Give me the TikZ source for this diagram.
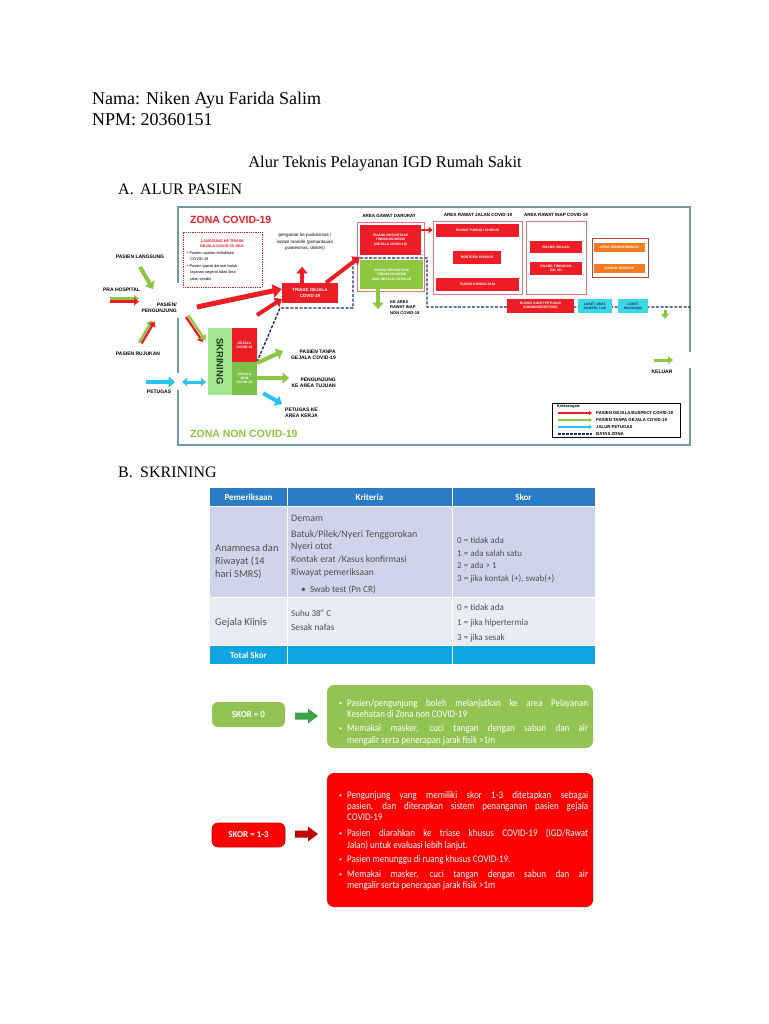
\documentclass[tikz,border=0pt]{standalone}
\usepackage{fontspec}
\setmainfont{Liberation Serif}
\newfontfamily\arial{Liberation Sans}
\newfontfamily\calib{Carlito}
\newfontfamily\calibn[FakeStretch=0.88]{Carlito}
\usetikzlibrary{arrows.meta}
\definecolor{cred}{HTML}{EE1C25}
\definecolor{cgreen}{HTML}{8DC63F}
\definecolor{ccyan}{HTML}{29C4F4}
\definecolor{cnavy}{HTML}{1C2B6E}
\definecolor{cteal}{HTML}{6E9C98}
\definecolor{corange}{HTML}{F47B20}
\definecolor{ccyb}{HTML}{3BD9E6}
\definecolor{cpink}{HTML}{E57373}
\definecolor{cbrown}{HTML}{B34A3A}
\definecolor{zgreen}{HTML}{8CC63F}
\definecolor{sklight}{HTML}{A4E58F}
\definecolor{skgreen}{HTML}{7CC24A}
\definecolor{sktext}{HTML}{1E3B1E}
\definecolor{thead}{HTML}{2A7CC7}
\definecolor{trowa}{HTML}{CFD4EA}
\definecolor{trowb}{HTML}{E9EBF5}
\definecolor{ttotal}{HTML}{0FA5E3}
\definecolor{tgray}{HTML}{505050}
\definecolor{sgreen}{HTML}{92C353}
\definecolor{skarr}{HTML}{3DA44A}
\definecolor{dred}{HTML}{C00000}
\definecolor{bred}{HTML}{FF0000}
\newcommand\fz[2]{\fontsize{#1}{#2}\selectfont}
\newcommand\jl[1]{\makebox[241pt][s]{#1}}
\begin{document}
\begin{tikzpicture}[x=1pt,y=-1pt,
  ar/.style={line width=4pt,-{Triangle[length=6.5pt,width=11pt]}},
  arR/.style={ar,draw=cred},
  arG/.style={ar,draw=cgreen},
  arC/.style={ar,draw=ccyan},
  ars/.style={line width=2.3pt,-{Triangle[length=5pt,width=7.5pt]}},
  lab/.style={font=\arial\bfseries\fz{5}{6.2}, align=center, inner sep=0pt, text=black},
  bt/.style={font=\arial\bfseries\fz{3.4}{4.3}, align=center, inner sep=0pt, text=white},
  area/.style={draw=cpink, line width=0.7pt, inner sep=0pt},
  zone/.style={draw=cteal, line width=1.8pt},
  batas/.style={draw=cnavy, line width=1.4pt, dash pattern=on 3pt off 1.6pt},
  hdr/.style={anchor=base west, inner sep=0pt},
  tc/.style={font=\calib\fz{10}{12}, text=tgray, anchor=base west, inner sep=0pt},
  legt/.style={anchor=west, inner sep=0pt, font=\arial\bfseries\fz{4.3}{5}},
  bl/.style={anchor=base west, inner sep=0pt, text=white, font=\calibn\fz{10.2}{11}},
  bul/.style={anchor=base west, inner sep=0pt, text=white, font=\calib\fz{6}{6}, yshift=1pt}
]
\useasboundingbox (0,0) rectangle (768,1024);
\fill[white] (0,0) rectangle (768,1024);

% ---------- header ----------
\node[hdr, font=\fz{18}{20}] (nama) at (92,105) {Nama: Niken Ayu Farida Salim};
\node[hdr, font=\fz{18}{20}] (npm) at (92,126) {NPM: 20360151};
\node[anchor=base, inner sep=0pt, font=\fz{16.5}{18}] (judul) at (385,168) {Alur Teknis Pelayanan IGD Rumah Sakit};
\node[hdr, font=\fz{16}{18}] (ha) at (118,195) {A.};
\node[hdr, font=\fz{16}{18}] (hat) at (140,195) {ALUR PASIEN};
\node[hdr, font=\fz{16}{18}] (hb) at (118,477) {B.};
\node[hdr, font=\fz{16}{18}] (hbt) at (140,477) {SKRINING};

% ---------- zone frame ----------
\draw[zone] (178,283) -- (178,207) -- (690,207) -- (690,352);
\draw[zone] (690,368) -- (690,445) -- (178,445) -- (178,390);
\draw[zone] (178,373) -- (178,318);
\node[anchor=west, inner sep=0pt, font=\arial\bfseries\fz{10.5}{12}, text=cred] (zc) at (190,220) {ZONA COVID-19};
\node[anchor=west, inner sep=0pt, font=\arial\bfseries\fz{10.5}{12}, text=zgreen] (znc) at (190,434) {ZONA NON COVID-19};

% batas zona
\draw[batas] (257,362) -- (280,308) -- (353,308) -- (353,258) -- (427,258) -- (427,307) -- (690,307);

% dashed red box
\node[draw=cred, line width=0.9pt, dash pattern=on 1pt off 0.8pt, minimum width=79pt, minimum height=55pt, inner sep=0pt] (lk) at (222.5,259.5) {};
\node[font=\arial\bfseries\fz{3.8}{5.2}, text=cred, align=center, inner sep=0pt] (lkt) at (222.5,243.5) {LANGSUNG KE TRIASE\\GEJALA COVID-19 JIKA:};
\node[anchor=north west, font=\arial\fz{3.9}{6.5}, align=left, inner sep=0pt] (lkb) at (187,251) {\textbullet\ Pasien rujukan terindikasi\\\hspace*{3.2pt}COVID-19\\\textbullet\ Pasien gawat darurat butuh\\\hspace*{3.2pt}layanan segera/ tidak bisa\\\hspace*{3.2pt}jalan sendiri};

% pengantar
\node[font=\arial\fz{4.5}{6.6}, align=center, inner sep=0pt] (peng) at (305,242) {pengantar ke puskesmas /\\isolasi mandiri (pemantauan\\puskesmas, dinkes)};

% triase
\node[bt, fill=cred, minimum width=56pt, minimum height=20pt, font=\arial\bfseries\fz{4.4}{5.6}] (triase) at (310,293) {TRIASE GEJALA\\COVID-19};

% area gawat darurat
\node[lab, font=\arial\bfseries\fz{4.5}{5}] (agdl) at (389,216) {AREA GAWAT DARURAT};
\node[area, minimum width=67pt, minimum height=69pt] (agd) at (390.5,256.5) {};
\node[bt, fill=cred, minimum width=61pt, minimum height=30pt] (agdr) at (390.5,240) {RUANG RESUSITASI/\\TINDAKAN MEDIS\\(GEJALA COVID-19)};
\node[bt, fill=cgreen, minimum width=63pt, minimum height=29pt] (agdg) at (391.5,274.5) {RUANG RESUSITASI/\\TINDAKAN MEDIS\\NON GEJALA COVID-19};
\node[anchor=west, font=\arial\bfseries\fz{4.1}{5.2}, align=left, inner sep=0pt] (kenon) at (390,307.5) {KE AREA\\RAWAT INAP\\NON COVID-19};

% area rawat jalan
\node[lab, font=\arial\bfseries\fz{4.5}{5}] (arjl) at (478,215) {AREA RAWAT JALAN COVID-19};
\node[area, minimum width=89pt, minimum height=73pt] (arj) at (477.5,257.5) {};
\node[bt, fill=cred, minimum width=83pt, minimum height=13pt] (rtk) at (477.5,230.5) {RUANG TUNGGU KHUSUS};
\node[bt, fill=cred, minimum width=48pt, minimum height=13pt] (rtg) at (477,257.5) {RONTGEN KHUSUS};
\node[bt, fill=cred, minimum width=83pt, minimum height=13pt] (rks) at (477.5,284.5) {RUANG KONSULTASI};

% area rawat inap
\node[lab, font=\arial\bfseries\fz{4.5}{5}] (aril) at (556,215) {AREA RAWAT INAP COVID-19};
\node[area, minimum width=60pt, minimum height=73pt] (ari) at (556,257.5) {};
\node[bt, fill=cred, minimum width=52pt, minimum height=12pt] (ris) at (556,247) {RUANG ISOLASI};
\node[bt, fill=cred, minimum width=52pt, minimum height=13pt] (rti) at (556,268.5) {RUANG TINDAKAN\\OK, VK};

% orange group
\node[draw=cbrown, line width=0.6pt, minimum width=56pt, minimum height=39pt, inner sep=0pt] (org) at (620,257.5) {};
\node[bt, fill=corange, minimum width=51pt, minimum height=9pt] (adk) at (619.5,247.5) {AREA DEKONTAMINASI};
\node[bt, fill=corange, minimum width=51pt, minimum height=9pt] (kjz) at (619.5,268.5) {KAMAR JENAZAH};

% bottom row on batas
\node[bt, fill=cred, minimum width=67pt, minimum height=14pt] (rgp) at (540.5,306) {RUANG GANTI PETUGAS\\(DONNING/DOFFING)};
\node[bt, fill=ccyb, text=cnavy, minimum width=34pt, minimum height=14pt] (lob) at (595,306) {LOKET OBAT,\\SAMPEL LAB};
\node[bt, fill=ccyb, text=cnavy, minimum width=30pt, minimum height=14pt] (lmk) at (633,306) {LOKET\\MAKANAN};

% skrining
\node[fill=sklight, minimum width=49pt, minimum height=67pt, inner sep=0pt] (skr) at (232.5,361.5) {};
\node[bt, fill=cred, minimum width=25pt, minimum height=34pt] (skrr) at (244.5,345) {GEJALA\\COVID-19};
\node[bt, fill=skgreen, minimum width=25pt, minimum height=33pt] (skrg) at (244.5,378.5) {GEJALA\\NON\\COVID-19};
\node[rotate=-90, inner sep=0pt, font=\arial\bfseries\fz{9.5}{10}, text=sktext] (skrt) at (220,361.5) {SKRINING};

% outside labels
\node[lab] (pl) at (140,257) {PASIEN LANGSUNG};
\node[lab] (ph) at (121.5,290) {PRA HOSPITAL};
\node[lab, align=right, anchor=east] (pp) at (177,307.5) {PASIEN/\\PENGUNJUNG};
\node[lab] (pr) at (138,354) {PASIEN RUJUKAN};
\node[lab] (pt) at (159,392) {PETUGAS};
\node[lab, align=right, anchor=east] (ptg) at (336,354.5) {PASIEN TANPA\\GEJALA COVID-19};
\node[lab, align=right, anchor=east] (pgk) at (336,382.5) {PENGUNJUNG\\KE AREA TUJUAN};
\node[lab, align=left, anchor=west] (pka) at (285,412.5) {PETUGAS KE\\AREA KERJA};
\node[lab] (kel) at (662,372) {KELUAR};

% arrows outside / entry
\draw[arG] (140,267) -- (153,289);
\draw[ars, draw=cgreen] (110,298.6) -- (139,298.6);
\draw[ars, draw=cred] (110,301.6) -- (139,301.6);
\draw[ars, draw=cgreen] (139,342.6) -- (152,320.6);
\draw[ars, draw=cred] (141.6,343.4) -- (154.6,321.4);
\draw[arC, line width=4.5pt] (146,382) -- (175,382);
\draw[ccyan, line width=3pt, {Triangle[length=5pt,width=8pt]}-{Triangle[length=5pt,width=8pt]}] (182,382) -- (206,382);
\draw[ars, draw=cred] (186,317) -- (203,342);
\draw[ars, draw=cgreen] (188.5,315.5) -- (205.5,340.5);

% arrows to/from triase
\draw[cred, line width=5pt, -{Triangle[length=9pt,width=13pt]}] (197,307) -- (triase.west |- 0,289);
\draw[arR] (257,315) -- (triase.west |- 0,299);
\draw[arR, line width=3.6pt] ([xshift=-8pt]triase.north) -- ++(0,-16);
\draw[arR] ([xshift=16pt]triase.north) -- (agdr.west |- 0,257);
\draw[arG, line width=3.6pt] (agdg.south -| 378,0) -- ++(0,20);
\draw[arR, line width=2.5pt, -{Triangle[length=4pt,width=6.5pt]}] (agdr.east |- 0,230) -- (arj.west |- 0,230);

% arrows from skrining
\draw[arG] (skrg.east |- 0,363) -- (283,351);
\draw[arG] (skrg.east |- 0,378) -- (289,378);
\draw[arC] (skrg.south east) ++(6,-2) -- (282,404);

% exit arrows
\draw[arG, line width=3pt, -{Triangle[length=5pt,width=8pt]}] (665,310) -- (665,319);
\draw[arG, line width=3pt, -{Triangle[length=5pt,width=8pt]}] (654,360) -- (673,360);

% legend
\node[draw=black, line width=0.4pt, minimum width=128pt, minimum height=34pt, inner sep=0pt] (leg) at (616,420) {};
\node[legt, font=\arial\bfseries\fz{4}{5}] (legk) at (557,407) {Keterangan:};
\draw[cred, line width=1.6pt, -{Triangle[length=3pt,width=4pt]}] (558,413) -- (592,413);
\draw[cgreen, line width=1.6pt, -{Triangle[length=3pt,width=4pt]}] (558,420) -- (592,420);
\draw[ccyan, line width=1.6pt, -{Triangle[length=3pt,width=4pt]}] (558,427) -- (592,427);
\draw[cnavy, line width=1.2pt, dash pattern=on 2.5pt off 1.5pt] (558,434) -- (592,434);
\node[legt] (l1) at (596,413) {PASIEN GEJALA/SUSPECT COVID-19};
\node[legt] (l2) at (596,420) {PASIEN TANPA GEJALA COVID-19};
\node[legt] (l3) at (596,427) {JALUR PETUGAS};
\node[legt] (l4) at (596,434) {BATAS ZONA};

% ---------- table ----------
\fill[thead] (210,488) rectangle (595,506);
\fill[trowa] (210,506) rectangle (595,597);
\fill[trowb] (210,597) rectangle (595,645);
\fill[ttotal] (210,645) rectangle (595,664);
\draw[white, line width=1pt] (287,488) -- (287,664) (452,488) -- (452,664) (210,506) -- (595,506) (210,597) -- (595,597) (210,645) -- (595,645);
\node[font=\calib\bfseries\fz{9}{10}, text=white, inner sep=0pt] (h1) at (248.5,497) {Pemeriksaan};
\node[font=\calib\bfseries\fz{9}{10}, text=white, inner sep=0pt] (h2) at (369.5,497) {Kriteria};
\node[font=\calib\bfseries\fz{9}{10}, text=white, inner sep=0pt] (h3) at (523.5,497) {Skor};
\node[tc, font=\calib\fz{10.5}{13}, align=left, anchor=north west] (c11) at (215,544) {Anamnesa dan\\Riwayat (14\\hari SMRS)};
\node[tc] (c21) at (291,521) {Demam};
\node[tc] (c22) at (291,537) {Batuk/Pilek/Nyeri Tenggorokan};
\node[tc] (c23) at (291,549.5) {Nyeri otot};
\node[tc, font=\calib\fz{9.6}{12}] (c24) at (291,562) {Kontak erat /Kasus konfirmasi};
\node[tc, font=\calib\fz{9.6}{12}] (c25) at (291,575) {Riwayat pemeriksaan};
\node[tc, font=\calib\fz{9.3}{12}] (c26) at (301,592) {\textbullet\ \ Swab test (Pn CR)};
\node[tc, font=\calib\fz{9}{12}] (c31) at (457,543) {0 = tidak ada};
\node[tc, font=\calib\fz{9}{12}] (c32) at (457,556) {1 = ada salah satu};
\node[tc, font=\calib\fz{9}{12}] (c33) at (457,568.5) {2 = ada > 1};
\node[tc, font=\calib\fz{9}{12}] (c34) at (457,581.5) {3 = jika kontak (+), swab(+)};
\node[tc, font=\calib\fz{10.5}{12}] (d11) at (215,625) {Gejala Klinis};
\node[tc, font=\calib\fz{9}{12}] (d21) at (291,616) {Suhu 38\textsuperscript{o} C};
\node[tc, font=\calib\fz{9.3}{12}] (d22) at (291,630.5) {Sesak nafas};
\node[tc, font=\calib\fz{9}{12}] (d31) at (457,610) {0 = tidak ada};
\node[tc, font=\calib\fz{9}{12}] (d32) at (457,625) {1 = jika hipertermia};
\node[tc, font=\calib\fz{9}{12}] (d33) at (457,640) {3 = jika sesak};
\node[font=\calib\bfseries\fz{9}{10}, text=white, inner sep=0pt] (tot) at (248.5,655) {Total Skor};

% ---------- score boxes ----------
\node[fill=sgreen, rounded corners=6pt, minimum width=73pt, minimum height=25pt, inner sep=0pt, text=white, font=\calib\bfseries\fz{9}{10}] (s0) at (248.5,714.5) {SKOR = 0};
\fill[skarr] (295,712.5) -- (308,712.5) -- (308,708.5) -- (318,716) -- (308,723.5) -- (308,719.5) -- (295,719.5) -- cycle;
\node[fill=sgreen, rounded corners=7pt, minimum width=266pt, minimum height=63pt, inner sep=0pt] (g0) at (460,716.5) {};
\node[bul] (gb1) at (339,706) {\textbullet};
\node[bl] (g1) at (347,706) {\jl{Pasien/pengunjung boleh melanjutkan ke area Pelayanan}};
\node[bl] (g2) at (347,717) {Kesehatan di Zona non COVID-19};
\node[bul] (gb2) at (339,731) {\textbullet};
\node[bl] (g3) at (347,731) {\jl{Memakai masker, cuci tangan dengan sabun dan air}};
\node[bl] (g4) at (347,743) {mengalir serta penerapan jarak fisik >1m};

\node[fill=bred, draw=dred, line width=0.6pt, rounded corners=6pt, minimum width=73pt, minimum height=24pt, inner sep=0pt, text=white, font=\calib\bfseries\fz{9}{10}] (s13) at (248.5,835) {SKOR = 1-3};
\fill[dred] (295,830.5) -- (308,830.5) -- (308,826.5) -- (318,834) -- (308,841.5) -- (308,837.5) -- (295,837.5) -- cycle;
\node[fill=bred, rounded corners=7pt, minimum width=266pt, minimum height=134pt, inner sep=0pt] (r13) at (460,840) {};
\node[bul] (rb1) at (339,798) {\textbullet};
\node[bl] (r1) at (347,798) {\jl{Pengunjung yang memiliki skor 1-3 ditetapkan sebagai}};
\node[bl] (r2) at (347,809) {\jl{pasien, dan diterapkan sistem penanganan pasien gejala}};
\node[bl] (r3) at (347,820) {COVID-19};
\node[bul] (rb2) at (339,836) {\textbullet};
\node[bl] (r4) at (347,836) {\jl{Pasien diarahkan ke triase khusus COVID-19 (IGD/Rawat}};
\node[bl] (r5) at (347,848) {Jalan) untuk evaluasi lebih lanjut.};
\node[bul] (rb3) at (339,862) {\textbullet};
\node[bl] (r6) at (347,862) {Pasien menunggu di ruang khusus COVID-19.};
\node[bul] (rb4) at (339,877) {\textbullet};
\node[bl] (r7) at (347,877) {\jl{Memakai masker, cuci tangan dengan sabun dan air}};
\node[bl] (r8) at (347,888) {mengalir serta penerapan jarak fisik >1m};
\end{tikzpicture}
\end{document}
